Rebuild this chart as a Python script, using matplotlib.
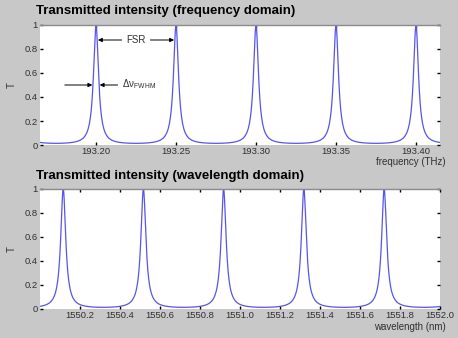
import numpy as np
import matplotlib
matplotlib.use("Agg")
import matplotlib.pyplot as plt

# Fabry-Perot etalon parameters
peak_freq_thz = [193.20, 193.25, 193.30, 193.35, 193.40]
fsr_thz = 0.05
fwhm_thz = 0.0038
c_nm_thz = 299792.458  # speed of light in nm*THz

freq_ticks = [193.20, 193.25, 193.30, 193.35, 193.40]
freq_ticklabels = ["193.20", "193.25", "193.30", "193.35", "193.40"]
wl_ticks = [1550.2, 1550.4, 1550.6, 1550.8, 1551.0, 1551.2, 1551.4, 1551.6, 1551.8, 1552.0]
wl_ticklabels = ["1550.2", "1550.4", "1550.6", "1550.8", "1551.0", "1551.2",
                 "1551.4", "1551.6", "1551.8", "1552.0"]
y_ticks = [0, 0.2, 0.4, 0.6, 0.8, 1.0]
y_ticklabels = ["0", "0.2", "0.4", "0.6", "0.8", "1"]

freq_range = (193.165, 193.415)
wl_range = (1550.0, 1552.0)


def airy(nu):
    finesse = fsr_thz / fwhm_thz
    coef = (2 * finesse / np.pi) ** 2
    phase = np.pi * (nu - peak_freq_thz[0]) / fsr_thz
    return 1.0 / (1.0 + coef * np.sin(phase) ** 2)


bg = "#c8c8c8"
line_col = "#5656e6"
txt_col = "#303030"
font = ["Liberation Sans", "DejaVu Sans"]
plt.rcParams["font.family"] = font
plt.rcParams["mathtext.fontset"] = "custom"
plt.rcParams["mathtext.rm"] = "Liberation Sans"

fig = plt.figure(figsize=(4.58, 3.38), dpi=100, facecolor=bg)
W, H = 458, 338


def make_axes(top_px, bottom_px):
    ax = fig.add_axes([40 / W, 1 - bottom_px / H, 400 / W, (bottom_px - top_px) / H])
    ax.set_facecolor("white")
    for s in ["left", "bottom", "right"]:
        ax.spines[s].set_visible(False)
    ax.spines["top"].set_color("#8a8a8a")
    ax.spines["top"].set_linewidth(1.0)
    ax.tick_params(direction="in", length=2.5, width=1.0, color="black",
                   top=True, right=True, labelsize=6.8, labelcolor=txt_col, pad=1.5)
    ax.set_ylim(0, 1)
    ax.set_yticks(y_ticks)
    ax.set_yticklabels(y_ticklabels)
    fig.text(12 / W, 1 - (top_px + bottom_px) / 2 / H, "T", rotation=90,
             ha="center", va="center", fontsize=7, color=txt_col)
    return ax


# Frequency domain
ax1 = make_axes(25, 145)
nu = np.linspace(freq_range[0], freq_range[1], 4000)
ax1.plot(nu, airy(nu), color=line_col, lw=0.9)
ax1.set_xlim(*freq_range)
ax1.set_xticks(freq_ticks)
ax1.set_xticklabels(freq_ticklabels)
fig.text(446 / W, 1 - 162 / H, "frequency (THz)", ha="right", va="center",
         fontsize=7, color=txt_col)
fig.text(36 / W, 1 - 11 / H, "Transmitted intensity (frequency domain)",
         ha="left", va="center", fontsize=9.5, fontweight="bold", color="black")

# FSR annotation
arrow = dict(arrowstyle="-|>", color="black", lw=0.7, mutation_scale=6,
             shrinkA=0, shrinkB=0)
p0, p1 = peak_freq_thz[0], peak_freq_thz[1]
ax1.text((p0 + p1) / 2, 0.875, "FSR", ha="center", va="center", fontsize=7,
         color=txt_col)
ax1.annotate("", xy=(p0 + 0.0012, 0.875), xytext=(p0 + 0.016, 0.875), arrowprops=arrow)
ax1.annotate("", xy=(p1 - 0.0012, 0.875), xytext=(p1 - 0.016, 0.875), arrowprops=arrow)

# FWHM annotation
half = fwhm_thz / 2
ax1.annotate("", xy=(p0 - half - 0.0004, 0.5), xytext=(p0 - 0.0195, 0.5), arrowprops=arrow)
ax1.annotate("", xy=(p0 + half + 0.0004, 0.5), xytext=(p0 + 0.0135, 0.5), arrowprops=arrow)
ax1.text(p0 + 0.0165, 0.51, "Δν$_{\\mathrm{FWHM}}$", ha="left", va="center",
         fontsize=7, color=txt_col)

# Wavelength domain
ax2 = make_axes(189, 309)
lam = np.linspace(wl_range[0], wl_range[1], 4000)
ax2.plot(lam, airy(c_nm_thz / lam), color=line_col, lw=0.9)
ax2.set_xlim(*wl_range)
ax2.set_xticks(wl_ticks)
ax2.set_xticklabels(wl_ticklabels)
fig.text(446 / W, 1 - 327 / H, "wavelength (nm)", ha="right", va="center",
         fontsize=7, color=txt_col)
fig.text(36 / W, 1 - 176 / H, "Transmitted intensity (wavelength domain)",
         ha="left", va="center", fontsize=9.5, fontweight="bold", color="black")

fig.savefig("out.png", dpi=100, facecolor=bg)
